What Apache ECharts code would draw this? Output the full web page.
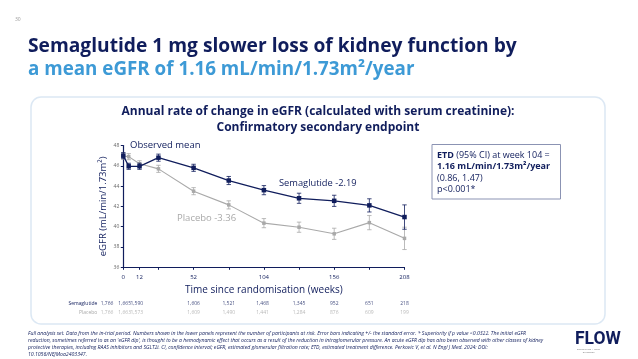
<!DOCTYPE html>
<html><head><meta charset="utf-8">
<script src="https://cdn.jsdelivr.net/npm/echarts@6/dist/echarts.min.js"></script>
<style>html,body{margin:0;padding:0;background:#fff}#c{width:638px;height:359px}</style>
</head><body><div id="c"></div>
<script>
const weeks = [0, 4, 12, 26, 52, 78, 104, 130, 156, 182, 208];
const semaMean = [47.0, 45.95, 45.95, 46.8, 45.8, 44.55, 43.6, 42.8, 42.55, 42.1, 40.95];
const semaSE = [0.3, 0.3, 0.3, 0.35, 0.35, 0.4, 0.45, 0.5, 0.55, 0.65, 1.2];
const placeboMean = [46.95, 46.9, 46.2, 45.7, 43.5, 42.15, 40.35, 39.95, 39.3, 40.4, 38.85];
const placeboSE = [0.3, 0.3, 0.3, 0.35, 0.35, 0.4, 0.45, 0.5, 0.55, 0.7, 1.1];
const xTickValues = [0, 12, 26, 52, 78, 104, 130, 156, 182, 208];
const xLabelValues = [0, 12, 52, 104, 156, 208];
const atRiskRows = ['Semaglutide', 'Placebo'];
const atRiskWeeks = [-12, 1, 10, 52, 78, 103, 130, 156, 182, 208];
const atRiskSema = [1766, 1665, 1590, 1606, 1521, 1468, 1345, 952, 651, 218];
const atRiskPlacebo = [1766, 1663, 1573, 1609, 1490, 1441, 1284, 876, 609, 199];

const NAVY = '#101d5c', GRAY = '#a9a9a9', LBLUE = '#3d9ad6', FONT = 'Open Sans';
const chart = echarts.init(document.getElementById('c'), null, {renderer: 'canvas'});

function errBars(color) {
  return function (params, api) {
    const x = api.value(0), lo = api.value(1), hi = api.value(2);
    const a = api.coord([x, lo]), b = api.coord([x, hi]);
    const w = 2.2, st = {stroke: color, lineWidth: 0.8};
    return {type: 'group', children: [
      {type: 'line', shape: {x1: a[0], y1: a[1], x2: b[0], y2: b[1]}, style: st},
      {type: 'line', shape: {x1: a[0] - w, y1: a[1], x2: a[0] + w, y2: a[1]}, style: st},
      {type: 'line', shape: {x1: b[0] - w, y1: b[1], x2: b[0] + w, y2: b[1]}, style: st}
    ]};
  };
}
const pairs = (m) => weeks.map((w, i) => [w, m[i]]);
const errs = (m, s) => weeks.map((w, i) => [w, +(m[i] - s[i]).toFixed(2), +(m[i] + s[i]).toFixed(2)]);
const fmt = (n) => n.toLocaleString('en-US');

const footnote = [
  'Full analysis set. Data from the in-trial period. Numbers shown in the lower panels represent the number of participants at risk. Error bars indicating +/- the standard error. * Superiority if p value <0.0322. The initial eGFR',
  "reduction, sometimes referred to as an 'eGFR dip', is thought to be a hemodynamic effect that occurs as a result of the reduction in intraglomerular pressure. An acute eGFR dip has also been observed with other classes of kidney",
  'protective therapies, including RAAS inhibitors and SGLT2i. CI, confidence interval; eGFR, estimated glomerular filtration rate; ETD, estimated treatment difference. Perkovic V, et al. N Engl J Med. 2024: DOI:',
  '10.1056/NEJMoa2403347.'
].join('\n');

const option = {
  backgroundColor: '#fff',
  animation: false,
  textStyle: {fontFamily: FONT},
  grid: [
    {left: 123.3, top: 145.5, width: 281.2, height: 121.8},
    {left: 100.3, top: 299.4, width: 304.2, height: 17.2}
  ],
  xAxis: [
    {gridIndex: 0, type: 'value', min: 0, max: 208,
     name: 'Time since randomisation (weeks)', nameLocation: 'middle', nameGap: 18,
     nameTextStyle: {color: NAVY, fontSize: 10, fontFamily: FONT},
     axisLine: {lineStyle: {color: NAVY, width: 1.2}},
     axisTick: {show: true, length: 2.5, lineStyle: {color: NAVY}, customValues: xTickValues},
     axisLabel: {color: NAVY, fontSize: 6, margin: 7, customValues: xLabelValues},
     splitLine: {show: false}},
    {gridIndex: 1, type: 'value', min: -17, max: 208, show: false}
  ],
  yAxis: [
    {gridIndex: 0, type: 'value', min: 36, max: 48, interval: 2,
     name: 'eGFR (mL/min/1.73m²)', nameLocation: 'middle', nameGap: 15, nameRotate: 90,
     nameTextStyle: {color: NAVY, fontSize: 9.5, fontFamily: FONT},
     axisLine: {show: true, lineStyle: {color: NAVY, width: 1.2}},
     axisTick: {show: true, length: 2.5, lineStyle: {color: NAVY}},
     axisLabel: {color: '#666', fontSize: 5, margin: 4},
     splitLine: {show: false}},
    {gridIndex: 1, type: 'category', data: atRiskRows, inverse: true,
     axisLine: {show: false}, axisTick: {show: false},
     axisLabel: {fontSize: 5, margin: 3, color: (v) => v === 'Placebo' ? GRAY : NAVY}}
  ],
  series: [
    {type: 'custom', xAxisIndex: 0, yAxisIndex: 0, renderItem: errBars(GRAY),
     encode: {x: 0, y: [1, 2]}, data: errs(placeboMean, placeboSE), z: 2},
    {type: 'line', xAxisIndex: 0, yAxisIndex: 0, data: pairs(placeboMean),
     symbol: 'rect', symbolSize: 3.5, lineStyle: {color: GRAY, width: 1.1},
     itemStyle: {color: GRAY}, z: 3},
    {type: 'custom', xAxisIndex: 0, yAxisIndex: 0, renderItem: errBars(NAVY),
     encode: {x: 0, y: [1, 2]}, data: errs(semaMean, semaSE), z: 4},
    {type: 'line', xAxisIndex: 0, yAxisIndex: 0, data: pairs(semaMean),
     symbol: 'rect', symbolSize: 4.5, lineStyle: {color: NAVY, width: 1.3},
     itemStyle: {color: NAVY}, z: 5},
    {type: 'scatter', xAxisIndex: 1, yAxisIndex: 1, symbolSize: 1, itemStyle: {color: 'transparent'},
     data: atRiskWeeks.map((w, i) => [w, 'Semaglutide', atRiskSema[i]]),
     label: {show: true, position: 'inside', formatter: (p) => fmt(p.value[2]), color: NAVY, fontSize: 5}},
    {type: 'scatter', xAxisIndex: 1, yAxisIndex: 1, symbolSize: 1, itemStyle: {color: 'transparent'},
     data: atRiskWeeks.map((w, i) => [w, 'Placebo', atRiskPlacebo[i]]),
     label: {show: true, position: 'inside', formatter: (p) => fmt(p.value[2]), color: GRAY, fontSize: 5}}
  ],
  graphic: [
    {type: 'rect', z: -10, shape: {x: 31, y: 97, width: 574, height: 227, r: 10},
     style: {fill: '#fff', stroke: '#dce8f4', lineWidth: 1.5}},
    {type: 'text', x: 15, y: 17, style: {text: '30', fill: '#999', fontSize: 5, fontFamily: FONT}},
    {type: 'text', x: 28, y: 37, style: {text: 'Semaglutide 1 mg slower loss of kidney function by', fill: NAVY, fontSize: 19.2, fontWeight: 'bold', fontFamily: FONT}},
    {type: 'text', x: 28, y: 60, style: {text: 'a mean eGFR of 1.16 mL/min/1.73m²/year', fill: LBLUE, fontSize: 18.8, fontWeight: 'bold', fontFamily: FONT}},
    {type: 'text', x: 318, y: 103, style: {text: 'Annual rate of change in eGFR (calculated with serum creatinine):\nConfirmatory secondary endpoint', fill: NAVY, fontSize: 12, fontWeight: 'bold', fontFamily: FONT, align: 'center', lineHeight: 16.5}},
    {type: 'text', x: 130, y: 140, style: {text: 'Observed mean', fill: NAVY, fontSize: 9.5, fontFamily: FONT}},
    {type: 'text', x: 279, y: 179, style: {text: 'Semaglutide -2.19', fill: NAVY, fontSize: 9.3, fontFamily: FONT}},
    {type: 'text', x: 177, y: 213, style: {text: 'Placebo -3.36', fill: GRAY, fontSize: 9.5, fontFamily: FONT}},
    {type: 'rect', shape: {x: 432, y: 144.5, width: 128.5, height: 54.5}, style: {fill: '#fff', stroke: '#8b93b3', lineWidth: 1}},
    {type: 'text', x: 437, y: 149.5, style: {
      text: '{b|ETD} (95% CI) at week 104 =\n{b|1.16 mL/min/1.73m²/year}\n(0.86, 1.47)\np<0.001*',
      fill: NAVY, fontSize: 9, lineHeight: 11.5, fontFamily: FONT,
      rich: {b: {fontWeight: 'bold', fontSize: 9, fill: NAVY, fontFamily: FONT}}}},
    {type: 'text', x: 28, y: 330, style: {text: footnote, fill: NAVY, fontSize: 5.15, lineHeight: 7, fontStyle: 'italic', fontFamily: FONT}},
    {type: 'text', x: 575, y: 331, style: {text: 'FLOW', fill: NAVY, fontSize: 17.5, fontWeight: 'bold', fontFamily: 'Roboto'}},
    {type: 'text', x: 577, y: 348, style: {text: 'semaglutide | renal\n         outcomes', fill: '#777', fontSize: 2.5, lineHeight: 3, fontFamily: FONT}}
  ]
};
chart.setOption(option);
</script></body></html>
